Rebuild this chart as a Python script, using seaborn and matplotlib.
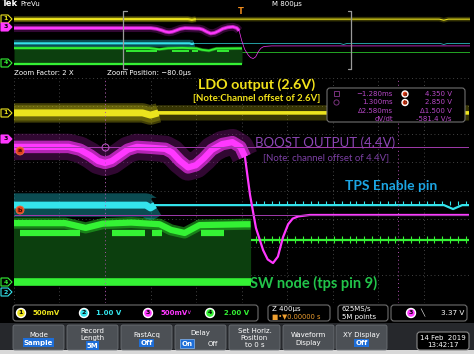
import numpy as np
import seaborn as sns
import matplotlib.pyplot as plt
from matplotlib.patches import FancyBboxPatch, Polygon, Circle, Rectangle

# Tek scope capture: time in ms (trigger at 0), level in screen divisions
record_window = [-4.0, 4.0]      # 800 us/div full record (top strip)
zoom_window = [-2.08, 1.92]      # 400 us/div zoom, position -80 us

# CH1 LDO output (yellow)
ch1_t = [-4.0, -0.95, -0.88, -0.81, 3.46, 3.54, 3.62, 4.0]
ch1_v = [2.76, 2.76, 2.68, 2.76, 2.76, 2.62, 2.76, 2.76]

# CH3 boost output (magenta)
ch3_t = [-4.0, -1.60, -1.50, -1.41, -1.34, -1.28, -1.22, -1.15, -1.08, -1.00,
         -0.88, -0.75, -0.69, -0.62, -0.55, -0.48, -0.41, -0.34, -0.25, -0.16,
         -0.09, -0.05, -0.005, 0.047, 0.11, 0.15, 0.197, 0.24, 0.285, 0.33,
         0.37, 0.42, 0.52, 4.0]
ch3_v = [1.55, 1.55, 1.45, 1.25, 1.05, 0.98, 1.05, 1.25, 1.45, 1.55,
         1.52, 1.48, 1.35, 1.05, 0.82, 0.90, 1.15, 1.45, 1.65, 1.72,
         1.55, 1.20, -0.16, -1.33, -2.12, -2.45, -2.58, -2.35, -1.66, -1.20,
         -1.00, -0.92, -0.87, -0.87]

# CH2 TPS enable (cyan)
ch2_t = [-4.0, -0.92, -0.88, -0.84, 1.70, 1.78, 1.86, 3.46, 3.54, 3.62, 4.0]
ch2_v = [-0.52, -0.52, -0.62, -0.52, -0.52, -0.66, -0.52, -0.52, -0.66, -0.52, -0.52]

# CH4 SW node (green): switching envelope before the trigger, flat after
ch4_top_t = [-4.0, -1.63, -1.45, -1.30, -1.05, -0.80, -0.70, -0.58, -0.45, -0.05, 0.0]
ch4_top_v = [-1.16, -1.16, -1.33, -1.18, -1.14, -1.20, -1.40, -1.51, -1.23, -1.20, -1.20]
ch4_floor = -3.27
ch4_bar_start = [-2.03, -1.22, -0.87, -0.44]
ch4_bar_end = [-1.50, -0.93, -0.78, -0.23]
ch4_bar_v = -1.51
ch4_after_t = [0.0, 4.0]
ch4_after_v = [-1.76, -1.76]

# glitches riding on CH2 / CH4 after the trigger
spike_t = [0.05, 0.12, 0.19, 0.25, 0.32, 0.39, 0.46, 0.53, 0.59, 0.66, 0.73,
           0.80, 0.87, 0.93, 1.00, 1.07, 1.14, 1.21, 1.27, 1.34, 1.41, 1.48,
           1.55, 1.61, 1.68, 1.75, 1.82, 1.89]

cursor_t = [-1.28, 1.30]
cursor_v = [1.53, -0.87]

meas_time = ["\u22121.280ms", "1.300ms", "\u03942.580ms", "dV/dt"]
meas_volt = ["4.350 V", "2.850 V", "\u03941.500 V", "-581.4 V/s"]

YEL, MAG, CYA, GRN = "#ece41e", "#ff38ff", "#34e4ec", "#34f234"

sns.set_theme(style="dark", rc={"axes.facecolor": "none", "figure.facecolor": "black"})
plt.rcParams["font.family"] = ["DejaVu Sans"]

W, H = 474, 354
fig = plt.figure(figsize=(W / 100, H / 100), dpi=100, facecolor="black")


def panel(x0, y0, w, h):
    ax = fig.add_axes([x0 / W, 1 - (y0 + h) / H, w / W, h / H])
    ax.set_facecolor("none")
    for s in ax.spines.values():
        s.set_visible(False)
    ax.tick_params(length=0, labelbottom=False, labelleft=False)
    return ax


def trace(ax, t, v, color, lw, alpha=1.0, z=3):
    sns.lineplot(x=list(t), y=list(v), ax=ax, color=color, linewidth=lw, alpha=alpha,
                 estimator=None, sort=False, legend=False, zorder=z,
                 solid_capstyle="butt", solid_joinstyle="round")


def side(t, v, upto):
    t = np.asarray(t)
    v = np.asarray(v)
    m = t <= upto
    return t[m], v[m]


def draw_waves(ax, k):
    # k scales line widths (1 for zoom window, smaller for record strip)
    t, v = side(ch4_top_t, ch4_top_v, 0.0)
    ax.fill_between(t, v, ch4_floor, color="#0c3f0e", lw=0, zorder=1)
    trace(ax, t, v, "#22b022", 8 * k, 0.6, z=2)
    trace(ax, t, v, GRN, 4.5 * k)
    trace(ax, [t[0], t[-1]], [ch4_floor, ch4_floor], GRN, 5.5 * k)
    ax.hlines([ch4_bar_v] * len(ch4_bar_start), ch4_bar_start, ch4_bar_end,
              color=GRN, lw=4.5 * k, zorder=3)
    trace(ax, ch4_after_t, ch4_after_v, GRN, 1.6 * k)

    t, v = side(ch2_t, ch2_v, 0.0)
    trace(ax, t, v, "#1aa9b8", 17 * k, 0.45, z=2)
    trace(ax, t, v, CYA, 5 * k)
    trace(ax, ch2_t, ch2_v, CYA, 1.6 * k)

    trace(ax, ch1_t, ch1_v, "#b8b010", 11 * k, 0.3, z=2)
    t, v = side(ch1_t, ch1_v, 0.0)
    trace(ax, t, v, "#d8d018", 14 * k, 0.3, z=2)
    trace(ax, t, v, YEL, 5 * k)
    trace(ax, ch1_t, ch1_v, YEL, 2.6 * k)

    t, v = side(ch3_t, ch3_v, -0.05)
    trace(ax, t, v, "#8e1890", 19 * k, 0.35, z=2)
    trace(ax, t, v, "#e030e0", 9 * k, 0.75, z=3)
    trace(ax, t, v, MAG, 4.5 * k, z=4)
    trace(ax, ch3_t, ch3_v, MAG, 1.6 * k, z=4)


# ---- record overview strip ----
ax_ov = panel(14, 10, 456, 59)
draw_waves(ax_ov, 0.3)
ax_ov.grid(False)
ax_ov.set_xlim(record_window)
ax_ov.set_ylim(-4, 4)
for x0, d in [(zoom_window[0], 1), (zoom_window[1], -1)]:
    ax_ov.plot([x0, x0], [3.8, -4.0], color="#9a9a9a", lw=0.9, zorder=6, clip_on=False)
    ax_ov.plot([x0, x0 + d * 0.06], [3.8, 3.8], color="#9a9a9a", lw=0.9, zorder=6, clip_on=False)
    ax_ov.plot([x0, x0 + d * 0.06], [-4.0, -4.0], color="#9a9a9a", lw=0.9, zorder=6, clip_on=False)

# ---- zoom window ----
ax = panel(14, 78, 455, 225)
draw_waves(ax, 1.0)
ax.vlines(spike_t, -0.52, -0.36, color=CYA, lw=0.8, zorder=4)
ax.vlines(spike_t, -1.86, -1.62, color=GRN, lw=0.8, zorder=4)
ax.set_xlim(zoom_window)
ax.set_ylim(-4, 4)
ax.set_xticks(np.linspace(zoom_window[0], zoom_window[1], 11))
ax.set_yticks(range(-4, 5))
ax.grid(True, color="#5a5a5a", lw=0.6, ls=(0, (1, 3.5)))
ax.hlines(cursor_v, zoom_window[0], zoom_window[1], color="#a23aac", lw=0.7, zorder=5)
ax.vlines(cursor_t, -4, 4, color="#b050b0", lw=0.7, ls=(0, (1, 3)), zorder=5)
ax.plot(cursor_t[0], cursor_v[0], "o", ms=5, mfc="none", mec="#b050b8", mew=0.8, zorder=6)

# ---- overlay: text and instrument chrome ----
ov = fig.add_axes([0, 0, 1, 1])
ov.set_xlim(0, W)
ov.set_ylim(H, 0)
ov.axis("off")
ui = dict(family="DejaVu Sans", color="white", va="center")

ov.text(2, 4, "Tek", fontsize=6, weight="bold", **ui)
ov.text(20, 4, "PreVu", fontsize=5, **ui)
ov.text(272, 4, "M 800\u00b5s", fontsize=5, **ui)
ov.text(241, 12, "T", fontsize=6, weight="bold", color="#f08c1c", ha="center", va="center")
ov.text(14, 73, "Zoom Factor: 2 X", fontsize=5, **ui)
ov.text(107, 73, "Zoom Position: \u221280.0\u00b5s", fontsize=5, **ui)


def tag(y, color, label, filled):
    pts = [(1, y - 4), (8, y - 4), (12, y), (8, y + 4), (1, y + 4)]
    ov.add_patch(Polygon(pts, closed=True, fc=color if filled else "black", ec=color, lw=0.8))
    ov.text(5.5, y, label, fontsize=4.5, color="black" if filled else color,
            ha="center", va="center", weight="bold")


tag(19, YEL, "1", False)
tag(27, MAG, "3", True)
tag(63, GRN, "4", False)
tag(113, YEL, "1", False)
tag(139, MAG, "3", True)
tag(282, GRN, "4", False)
tag(292, CYA, "2", False)
for y, lab in [(151, "a"), (210, "b")]:
    ov.add_patch(Circle((20, y), 4, fc="#e0401c", ec="#f07040", lw=0.6))
    ov.text(20, y, lab, fontsize=4.5, color="#3a0a00", ha="center", va="center", weight="bold")

# annotations
ov.text(198, 85, "LDO output (2.6V)", fontsize=10.3, weight="bold", color="#f2e21a",
        family="Lato", va="center")
ov.text(193, 98.5, "[Note:Channel offset of 2.6V]", fontsize=6.9, weight="bold",
        color="#f2e21a", family="Lato", va="center")
ov.text(255, 143, "BOOST OUTPUT (4.4V)", fontsize=9.5, color="#8c46b4", family="Lato", va="center")
ov.text(263, 158, "[Note: channel offset of 4.4V]", fontsize=6.9, color="#7c40a4",
        family="Lato", va="center")
ov.text(345, 186, "TPS Enable pin", fontsize=10, weight="bold", color="#1ca6e4",
        family="Lato", va="center")
ov.text(250, 283, "SW node (tps pin 9)", fontsize=10.5, weight="bold", color="#22c44a",
        family="Lato", va="center")

# cursor readout box
ov.add_patch(FancyBboxPatch((327, 88), 138, 34, boxstyle="round,pad=0,rounding_size=3",
                            fc="black", ec="#707070", lw=0.8, zorder=5))
rows = [94, 102.5, 111, 119]
pur = "#b848c8"
for i, y in enumerate(rows):
    ov.text(393, y, meas_time[i], fontsize=5, color=pur, ha="right", va="center", zorder=6)
    ov.text(452, y, meas_volt[i], fontsize=5, color=pur, ha="right", va="center", zorder=6)
ov.add_patch(Rectangle((334, 91), 5, 5, fc="none", ec="#8a3a90", lw=0.6, zorder=6))
ov.add_patch(Circle((336.5, 102.5), 2.6, fc="none", ec="#8a3a90", lw=0.6, zorder=6))
for y, lab in [(94, "a"), (102.5, "b")]:
    ov.add_patch(Circle((405, y), 3, fc="#e0401c", zorder=6))
    ov.text(405, y, lab, fontsize=3.8, color="#3a0a00", ha="center", va="center", zorder=7)


# status row
def rbox(x, y, w, h, fc="black", ec="#6e6e6e", r=3, lw=0.8):
    ov.add_patch(FancyBboxPatch((x, y), w, h, boxstyle=f"round,pad=0,rounding_size={r}",
                                fc=fc, ec=ec, lw=lw))


rbox(13, 305, 245, 16)
for x, c, n, s, sx in [(21, YEL, "1", "500mV", 33), (84, CYA, "2", "1.00 V", 96),
                       (148, MAG, "3", "500mV", 161), (210, GRN, "4", "2.00 V", 224)]:
    ov.add_patch(Circle((x, 313), 4.5, fc=c))
    ov.text(x, 313, n, fontsize=4.5, color="black", ha="center", va="center", weight="bold")
    ov.text(sx, 313, s, fontsize=5, color=c, va="center", weight="bold")
ov.text(189, 313, "\u2228", fontsize=4.5, color=MAG, ha="center", va="center")
rbox(268, 305, 62, 16)
ov.text(272, 309.5, "Z 400\u00b5s", fontsize=5, **ui)
ov.text(272, 317, "\u25a0\u2022\u25bc0.00000 s", fontsize=4.8, color="#f0a030", va="center")
rbox(338, 305, 50, 16)
ov.text(342, 309.5, "625MS/s", fontsize=5, **ui)
ov.text(342, 317, "5M points", fontsize=5, **ui)
rbox(391, 305, 76, 16)
ov.add_patch(Circle((411, 313), 4.5, fc=MAG))
ov.text(411, 313, "3", fontsize=4.5, color="black", ha="center", va="center", weight="bold")
ov.text(420, 313, "\u2572", fontsize=5, **ui)
ov.text(464, 313, "3.37 V", fontsize=5.2, ha="right", **ui)

# soft buttons
ov.add_patch(Rectangle((0, 323), W, 27, fc="#26282c", lw=0))
ov.add_patch(Rectangle((0, 350), W, 4, fc="#d8d8d8", lw=0))
buttons = [
    (13, [("Mode", 335, False), ("Sample", 342.5, True)]),
    (67, [("Record", 331, False), ("Length", 338, False), ("5M", 345.5, True)]),
    (121, [("FastAcq", 335, False), ("Off", 343, True)]),
    (175, [("Delay", 333, False)]),
    (229, [("Set Horiz.", 331, False), ("Position", 338, False), ("to 0 s", 345, False)]),
    (283, [("Waveform", 335, False), ("Display", 343, False)]),
    (336, [("XY Display", 335, False), ("Off", 343, True)]),
]
for x, lines in buttons:
    rbox(x, 325, 51, 25, fc="#4c5055", ec="#6c7075", r=2, lw=0.6)
    for s, y, hl in lines:
        ov.text(x + 25.5, y, s, fontsize=5, ha="center", weight="bold" if hl else "normal",
                bbox=dict(boxstyle="square,pad=0.15", fc="#1e6ed8", ec="none") if hl else None,
                **ui)
ov.text(187, 343.5, "On", fontsize=5, ha="center", weight="bold",
        bbox=dict(boxstyle="square,pad=0.2", fc="#1e6ed8", ec="#8ab8f0", lw=0.5), **ui)
ov.text(213, 343.5, "Off", fontsize=5, ha="center", **ui)
rbox(417, 332, 52, 18, ec="#8a8a8a")
ov.text(443, 338, "14 Feb  2019", fontsize=5, ha="center", **ui)
ov.text(443, 345, "13:42:17", fontsize=5, ha="center", **ui)

fig.savefig("out.png", dpi=100, facecolor="black")
